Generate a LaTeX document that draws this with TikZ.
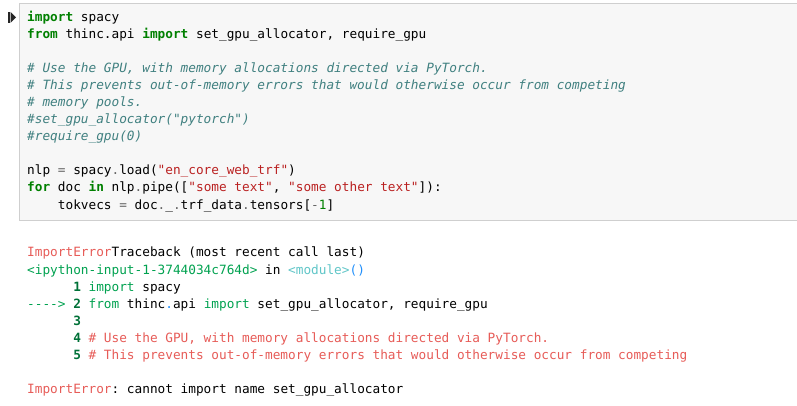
\documentclass[tikz,border=0pt]{standalone}
\usepackage{fontspec}
\setmonofont{DejaVu Sans Mono}
\usepackage{xcolor}
\definecolor{kw}{HTML}{008000}
\definecolor{str}{HTML}{BA2121}
\definecolor{cm}{HTML}{408080}
\definecolor{op}{HTML}{666666}
\definecolor{ered}{HTML}{E75C58}
\definecolor{egreen}{HTML}{00A250}
\definecolor{ecyan}{HTML}{60C6C8}
\definecolor{eblue}{HTML}{208FFB}
\newcommand{\K}[1]{\textcolor{kw}{\textbf{#1}}}
\newcommand{\C}[1]{\textcolor{cm}{\textit{#1}}}
\newcommand{\St}[1]{\textcolor{str}{#1}}
\newcommand{\R}[1]{\textcolor{ered}{#1}}
\newcommand{\G}[1]{\textcolor{egreen}{#1}}
\newcommand{\N}[1]{\textcolor{egreen!70!black}{\textbf{#1}}}
\begin{document}
\begin{tikzpicture}[x=1pt,y=-1pt,
  codeline/.style={anchor=west,inner sep=0pt,font=\ttfamily\fontsize{12.75}{15}\selectfont,text height=9pt,text depth=3pt}]
\useasboundingbox (0,0) rectangle (797,406);
\fill[white] (0,0) rectangle (797,406);
\draw[fill=black!3,draw=black!19] (19.5,3.5) rectangle (800,220.5);
\fill[black!85] (7.5,12) rectangle (10,23);
\fill[black!85] (10.5,12) -- (16,17.5) -- (10.5,23) -- cycle;
\node[codeline] (i1) at (27,19) {\K{import} spacy};
\node[codeline] (i2) at (27,36) {\K{from} thinc.api \K{import} set\_gpu\_allocator, require\_gpu};
\node[codeline] (i3) at (27,70) {\C{\# Use the GPU, with memory allocations directed via PyTorch.}};
\node[codeline] (i4) at (27,87) {\C{\# This prevents out-of-memory errors that would otherwise occur from competing}};
\node[codeline] (i5) at (27,104) {\C{\# memory pools.}};
\node[codeline] (i6) at (27,121) {\C{\#set\_gpu\_allocator("pytorch")}};
\node[codeline] (i7) at (27,138) {\C{\#require\_gpu(0)}};
\node[codeline] (i8) at (27,172) {nlp \textcolor{op}{=} spacy\textcolor{op}{.}load(\St{"en\_core\_web\_trf"})};
\node[codeline] (i9) at (27,189) {\K{for} doc \K{in} nlp\textcolor{op}{.}pipe([\St{"some text"}, \St{"some other text"}]):};
\node[codeline] (i10) at (27,206) {\ \ \ \ tokvecs \textcolor{op}{=} doc\textcolor{op}{.}\_\textcolor{op}{.}trf\_data\textcolor{op}{.}tensors[\textcolor{op}{-}\textcolor{kw}{1}]};
\node[codeline] (o1) at (27,253) {\R{ImportError}Traceback (most recent call last)};
\node[codeline] (o2) at (27,271) {\G{<ipython-input-1-3744034c764d>} in \textcolor{ecyan}{<module>}\textcolor{eblue}{()}};
\node[codeline] (o3) at (27,288) {\ \ \ \ \ \ \N{1} \G{import} spacy};
\node[codeline] (o4) at (27,305) {\G{---->} \N{2} \G{from} thinc\textcolor{eblue}{.}api \G{import} set\_gpu\_allocator, require\_gpu};
\node[codeline] (o5) at (27,322) {\ \ \ \ \ \ \N{3}};
\node[codeline] (o6) at (27,339) {\ \ \ \ \ \ \N{4} \R{\# Use the GPU, with memory allocations directed via PyTorch.}};
\node[codeline] (o7) at (27,356) {\ \ \ \ \ \ \N{5} \R{\# This prevents out-of-memory errors that would otherwise occur from competing}};
\node[codeline] (o8) at (27,390) {\R{ImportError}: cannot import name set\_gpu\_allocator};
\end{tikzpicture}
\end{document}
